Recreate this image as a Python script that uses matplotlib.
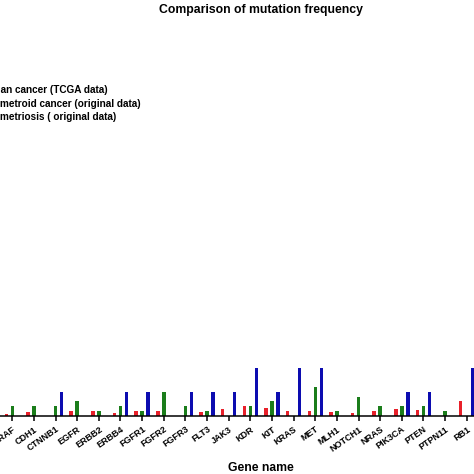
import matplotlib
matplotlib.use("Agg")
import matplotlib.pyplot as plt
import numpy as np

genes = ["BRAF", "CDH1", "CTNNB1", "EGFR", "ERBB2", "ERBB4", "FGFR1", "FGFR2",
         "FGFR3", "FLT3", "JAK3", "KDR", "KIT", "KRAS", "MET", "MLH1", "NOTCH1",
         "NRAS", "PIK3CA", "PTEN", "PTPN11", "RB1"]
ovarian_tcga = [0.8, 1.5, 0, 2.1, 2.0, 1.25, 2.0, 2.0, 0, 1.5, 3.0, 4.2, 3.2, 2.1,
                2.0, 1.5, 1.1, 2.0, 2.8, 2.4, 0, 6.1]
endometroid = [4, 4, 4, 6, 2, 4, 2, 10, 4, 2, 0, 4, 6, 0, 12, 2, 8, 4, 4, 4, 2, 0]
endometriosis = [0, 0, 10, 0, 0, 10, 10, 0, 10, 10, 10, 20, 10, 20, 20, 0, 0, 0,
                 10, 10, 0, 20]
series_labels = ["Ovarian cancer (TCGA data)", "Endometroid cancer (original data)",
                 "Endometriosis ( original data)"]

plt.rcParams['font.family'] = ['Liberation Sans', 'DejaVu Sans']
plt.rcParams['font.weight'] = 'bold'

W = H = 474
fig = plt.figure(figsize=(4.74, 4.74), dpi=100)
# axes spans beyond the figure (the reference is a crop)
left_px, right_px = -39, 561
ax = fig.add_axes([left_px / W, 58.3 / H, (right_px - left_px) / W, 240 / H])

x = np.arange(len(genes))
off, bw = 0.277, 0.16
b1 = ax.bar(x - off, ovarian_tcga, bw, color='#e8202a', label=series_labels[0])
b2 = ax.bar(x, endometroid, bw, color='#1b7d1b', label=series_labels[1])
b3 = ax.bar(x + off, endometriosis, bw, color='#0c0cb0', label=series_labels[2])

sp = 21.64
x0 = 12.3
ax.set_xlim((left_px - x0) / sp, (right_px - x0) / sp)
ax.set_ylim(0, 100)
ax.set_xticks(x)
ax.set_xticklabels(genes, rotation=35, ha='right', rotation_mode='anchor',
                   fontsize=6.5, fontweight='bold')
ax.set_yticks([])
for s in ['top', 'right', 'left']:
    ax.spines[s].set_visible(False)
ax.spines['bottom'].set_linewidth(1.1)
ax.tick_params(axis='x', length=3.5, width=1.1, pad=3)

fig.text(261 / W, 1 - 9.5 / H, "Comparison of mutation frequency", ha='center',
         va='center', fontsize=8.8, fontweight='bold')
fig.text(261 / W, 1 - 468 / H, "Gene name", ha='center', va='center',
         fontsize=8.7, fontweight='bold')

fig.legend(handles=[b1, b2, b3], labels=series_labels, loc='upper left',
           bbox_to_anchor=(-40 / W, 1 - 85 / H), frameon=False,
           prop={'size': 7.2, 'weight': 'bold'}, handlelength=1.0,
           handletextpad=0.5, borderpad=0, borderaxespad=0, labelspacing=0.36)

fig.savefig("out.png", dpi=100)
